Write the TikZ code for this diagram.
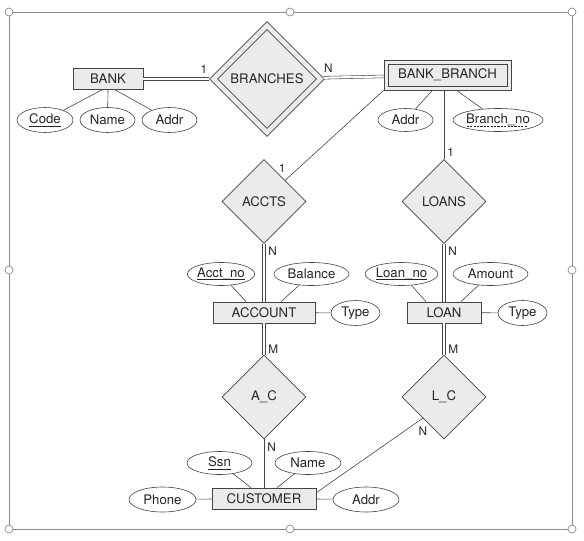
\documentclass[tikz,border=0pt]{standalone}
\usepackage{fontspec}
\setmainfont{TeX Gyre Heros}
\usetikzlibrary{shapes.geometric}
\definecolor{boxgray}{rgb}{0.92,0.92,0.92}
\definecolor{linegray}{rgb}{0.27,0.27,0.27}
\definecolor{framegray}{rgb}{0.55,0.55,0.55}
\newcommand{\keyattr}[1]{\setbox0\hbox{#1}\leavevmode\rlap{\raisebox{-2.4pt}{\rule{\wd0}{0.55pt}}}\box0}
\newcommand{\partkey}[1]{\setbox0\hbox{#1}\leavevmode\rlap{\raisebox{-2.6pt}{\makebox[\wd0]{\leaders\hbox to 3.4pt{\hss\rule{2.2pt}{0.5pt}\hss}\hfill}}}\box0}
\tikzset{
	every node/.style={font=\fontsize{13.2}{15}\selectfont, text=black!85},
	ent/.style={draw=linegray, fill=boxgray, line width=0.6pt, inner sep=0, minimum height=21},
	rel/.style={draw=linegray, fill=boxgray, line width=0.6pt, diamond, aspect=1, inner sep=0, minimum size=84},
	attr/.style={draw=linegray, fill=white, line width=0.6pt, ellipse, inner sep=0, minimum height=23},
	conn/.style={draw=linegray, line width=0.6pt},
	tot/.style={draw=linegray, line width=0.55pt, double=white, double distance=2.2pt},
	card/.style={font=\fontsize{11.8}{13}\selectfont, inner sep=0},
	handle/.style={draw=framegray, fill=white, line width=0.7pt, circle, inner sep=0, minimum size=8}
}

\begin{document}
\begin{tikzpicture}[x=1pt,y=-1pt]
		\useasboundingbox (0,0) rectangle (584,541);
		% selection frame
		\draw[framegray, line width=0.6pt] (9,12) rectangle (572,529);
		\foreach \hx/\hy in {9/12,290/12,572/12,9/270,572/270,9/529,290/529,572/529}{
			\node[handle] at (\hx,\hy) {};
		}
		% entities
		\node[ent, minimum width=70] (bank) at (108,79) {BANK};
		\node[ent, minimum width=127, minimum height=30] (bankbranch) at (447.5,75) {};
		\node[ent, minimum width=119, minimum height=22] (bankbranchin) at (447.5,75) {BANK\_BRANCH};
		\node[ent, minimum width=102] (account) at (264,312.5) {ACCOUNT};
		\node[ent, minimum width=74] (loan) at (444,312.5) {LOAN};
		\node[ent, minimum width=104] (customer) at (264,498.5) {CUSTOMER};
		% relationships
		\node[rel, minimum size=115] (branches) at (267,79) {};
		\node[rel, minimum size=99] (branchesin) at (267,79) {BRANCHES};
		\node[rel] (accts) at (264,201.5) {ACCTS};
		\node[rel] (loans) at (444,201.5) {LOANS};
		\node[rel] (ac) at (264,397) {A\_C};
		\node[rel] (lc) at (444,397) {L\_C};
		% attributes
		\node[attr, minimum width=56, minimum height=25] (bcode) at (45,120) {\keyattr{Code}};
		\node[attr, minimum width=55, minimum height=25] (bname) at (107.5,120) {Name};
		\node[attr, minimum width=55, minimum height=25] (baddr) at (169.5,120) {Addr};
		\node[attr, minimum width=55] (bbaddr) at (405.5,120) {Addr};
		\node[attr, minimum width=90] (bbno) at (498,120) {\partkey{Branch\_no}};
		\node[attr, minimum width=66] (acctno) at (221,274) {\keyattr{Acct\_no}};
		\node[attr, minimum width=75] (balance) at (311.5,274) {Balance};
		\node[attr, minimum width=49, minimum height=25] (atype) at (355.5,313) {Type};
		\node[attr, minimum width=65] (loanno) at (401.5,274) {\keyattr{Loan\_no}};
		\node[attr, minimum width=75] (amount) at (490.5,274) {Amount};
		\node[attr, minimum width=49, minimum height=25] (ltype) at (522.5,313) {Type};
		\node[attr, minimum width=65] (ssn) at (219.5,463) {\keyattr{Ssn}};
		\node[attr, minimum width=66] (cname) at (308,463) {Name};
		\node[attr, minimum width=67, minimum height=25] (phone) at (162.5,499.5) {Phone};
		\node[attr, minimum width=66, minimum height=25] (caddr) at (366,499.5) {Addr};
		% attribute links
		\draw[conn] ([xshift=-6pt]bank.south) -- (bcode);
		\draw[conn] (bank.south) -- (bname);
		\draw[conn] ([xshift=7pt]bank.south) -- (baddr);
		\draw[conn] ([xshift=-15pt]bankbranch.south) -- (bbaddr);
		\draw[conn] ([xshift=9pt]bankbranch.south) -- (bbno);
		\draw[conn] ([xshift=-18pt]account.north) -- (acctno);
		\draw[conn] ([xshift=17pt]account.north) -- (balance);
		\draw[conn] (account) -- (atype);
		\draw[conn] ([xshift=-18pt]loan.north) -- (loanno);
		\draw[conn] ([xshift=17pt]loan.north) -- (amount);
		\draw[conn] (loan) -- (ltype);
		\draw[conn] ([xshift=-13pt]customer.north) -- (ssn);
		\draw[conn] ([xshift=13pt]customer.north) -- (cname);
		\draw[conn] (customer) -- (phone);
		\draw[conn] (customer) -- (caddr);
		% relationship links
		\draw[tot] (bank) -- (branches) node[card, pos=0.92, above=5pt] {1};
		\draw[tot] (branches) -- (bankbranch) node[card, pos=0.08, above=5pt] {N};
		\draw[conn] (bankbranch.south west) -- (accts.north east) node[card, pos=1, above=8pt, xshift=-3pt] {1};
		\draw[conn] ([xshift=-3.5pt]bankbranch.south) -- (loans.north) node[card, pos=0.9, right=3pt] {1};
		\draw[tot] (accts) -- (account) node[card, pos=0.12, right=4pt] {N};
		\draw[tot] (loans) -- (loan) node[card, pos=0.12, right=4pt] {N};
		\draw[tot] (account) -- (ac) node[card, pos=0.82, right=4pt] {M};
		\draw[tot] (loan) -- (lc) node[card, pos=0.82, right=4pt] {M};
		\draw[conn] (ac) -- (customer) node[card, pos=0.16, right=3pt] {N};
		\draw[conn] ([yshift=-5pt]customer.north east) -- (lc.south west) node[card, pos=1, below=8pt] {N};
	\end{tikzpicture}
\end{document}
